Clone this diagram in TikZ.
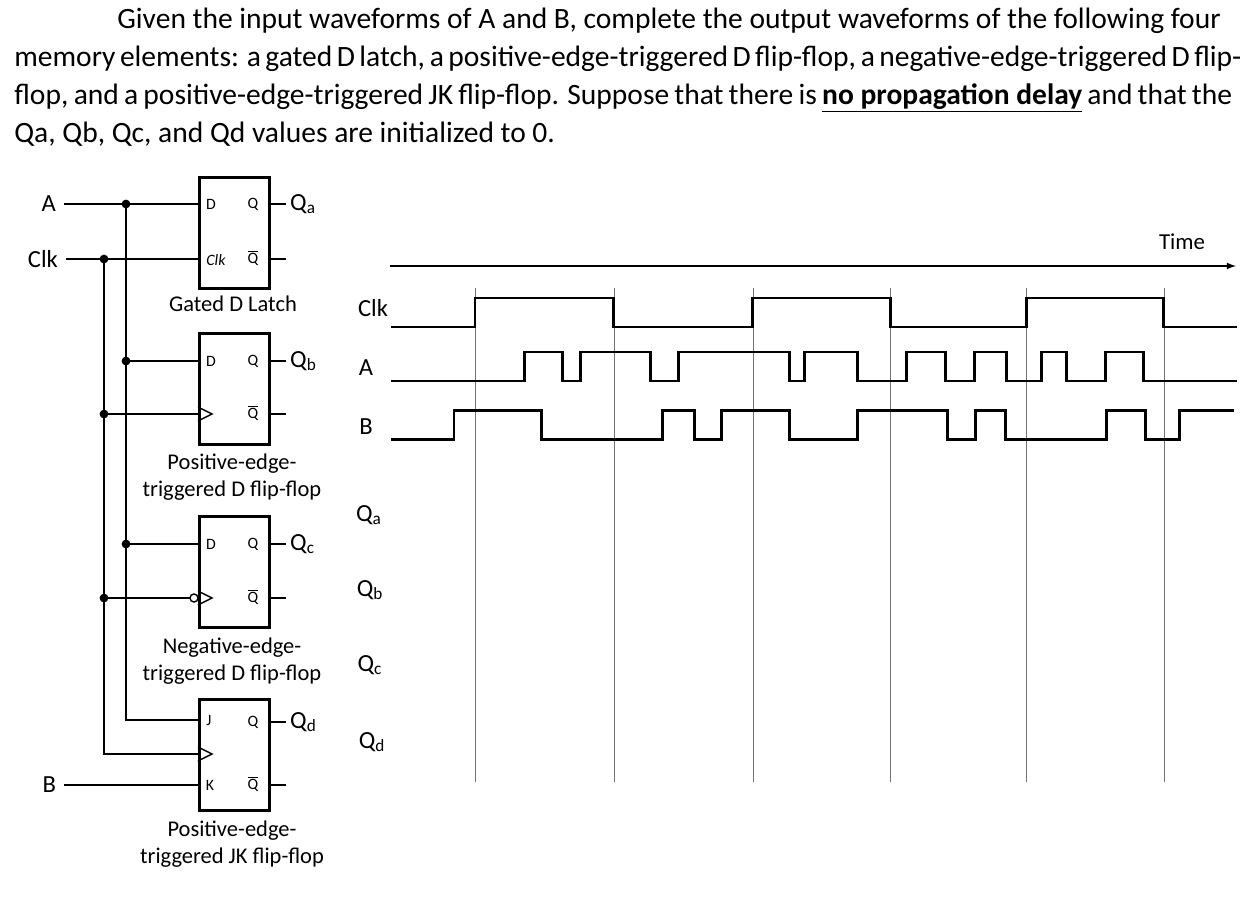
\documentclass[tikz,border=0pt]{standalone}
\usepackage{fontspec}
\setmainfont{Carlito}
\tikzset{
  ffbox/.style={draw,line width=1.6pt,minimum width=1.4cm,minimum height=2.22cm,inner sep=0pt},
  pin/.style={font=\fontsize{9}{10}\selectfont,inner sep=1pt},
  wire/.style={line width=0.8pt},
  wave/.style={line width=1.7pt},
  grid/.style={line width=0.4pt,black!55},
  caption/.style={align=center,font=\fontsize{12.8}{15.5}\selectfont},
  lbl/.style={font=\fontsize{14}{16}\selectfont,inner sep=1pt},
  taskline/.style={anchor=base west,inner sep=0pt,font=\fontsize{16.8}{20}\selectfont},
  dot/.style={circle,fill,inner sep=0pt,minimum size=5pt}
}
\newcommand{\qbar}{$\overline{\mbox{Q}}$}
\begin{document}
\begin{tikzpicture}[x=0.02cm,y=-0.02cm]
\useasboundingbox (0,0) rectangle (1244,896);

% question
\node[taskline] (task1) at (117,28) {Given the input waveforms of A and B, complete the output waveforms of the following four};
\node[taskline] (task2) at (14,66) {\makebox[24.36cm][s]{memory elements: a gated D latch, a positive-edge-triggered D flip-flop, a negative-edge-triggered D flip-}};
\node[taskline] (task3) at (14,104) {\makebox[24.36cm][s]{flop, and a positive-edge-triggered JK flip-flop. Suppose that there is \textbf{\underline{no propagation delay}} and that the}};
\node[taskline] (task4) at (14,142) {Qa, Qb, Qc, and Qd values are initialized to 0.};

% memory elements
\node[ffbox,anchor=north west] (latch) at (198,176) {};
\node[ffbox,anchor=north west] (ffb) at (198,332) {};
\node[ffbox,anchor=north west] (ffc) at (198,515) {};
\node[ffbox,anchor=north west] (ffd) at (198,698) {};

\node[pin] at (211,204) {D};
\node[pin] at (253,204) {Q};
\node[pin] at (216,260) {\itshape Clk};
\node[pin] at (253,258) {\qbar};
\node[pin] at (211,361) {D};
\node[pin] at (253,361) {Q};
\node[pin] at (253,413) {\qbar};
\node[pin] at (211,544) {D};
\node[pin] at (253,544) {Q};
\node[pin] at (253,597) {\qbar};
\node[pin] at (209,720) {J};
\node[pin] at (253,722) {Q};
\node[pin] at (210,785) {K};
\node[pin] at (253,784) {\qbar};

% clock triangles
\draw[wire] (198,407) -- (212,414) -- (198,421);
\draw[wire] (198,591) -- (212,598) -- (198,605);
\draw[wire] (198,747) -- (212,754) -- (198,761);
\draw[wire,fill=white] (194,598) circle (4);

\node[caption] (capa) at (233,304) {Gated D Latch};
\node[caption] (capb) at (232,477) {Positive-edge-\\triggered D flip-flop};
\node[caption] (capc) at (232,661) {Negative-edge-\\triggered D flip-flop};
\node[caption] (capd) at (232,844) {Positive-edge-\\triggered JK flip-flop};

% inputs
\node[lbl,anchor=east] (inA) at (58,204) {A};
\node[lbl,anchor=east] (inClk) at (60,259) {Clk};
\node[lbl,anchor=east] (inB) at (58,785) {B};
\draw[wire] (inA.east) ++(6,0) -- (198,204);
\draw[wire] (inClk.east) ++(6,0) -- (198,259);
\draw[wire] (inB.east) ++(6,0) -- (198,785);
\draw[wire] (126,204) -- (126,720) -- (198,720);
\draw[wire] (104,259) -- (104,754) -- (198,754);
\draw[wire] (126,361) -- (198,361);
\draw[wire] (126,544) -- (198,544);
\draw[wire] (104,414) -- (198,414);
\draw[wire] (104,598) -- (190,598);
\foreach \y in {204,361,544} \node[dot] at (126,\y) {};
\foreach \y in {259,414,598} \node[dot] at (104,\y) {};

% outputs
\foreach \y/\s in {204/a,361/b,544/c,722/d}
  \draw[wire] (268,\y) -- (286,\y) node[lbl,anchor=west,inner sep=2pt] {Q\textsubscript{\s}};
\foreach \y in {259,414,598,785}
  \draw[wire] (268,\y) -- (286,\y);

% timing diagram
\node[lbl,font=\fontsize{13}{15}\selectfont] (time) at (1182,242) {Time};
\draw[wire,-latex] (390,266) -- (1236,266);
\node[lbl] (wClk) at (373,308) {Clk};
\node[lbl] (wA) at (366,368) {A};
\node[lbl] (wB) at (366,427) {B};
\node[lbl] (wQa) at (369,515) {Q\textsubscript{a}};
\node[lbl] (wQb) at (370,590) {Q\textsubscript{b}};
\node[lbl] (wQc) at (370,665) {Q\textsubscript{c}};
\node[lbl] (wQd) at (372,742) {Q\textsubscript{d}};

\foreach \x in {475,614,753,890,1026,1164}
  \draw[grid] (\x,288) -- (\x,782);

\draw[wave] (391,327) -| (475,298) -| (613,327) -| (752,298) -| (890,327)
  -| (1026,298) -| (1163,327) -- (1237,327);
\draw[wave] (391,381) -| (524,352) -| (562,381) -| (580,352) -| (650,381)
  -| (678,352) -| (789,381) -| (804,352) -| (857,381) -| (906,352)
  -| (945,381) -| (974,352) -| (1006,381) -| (1041,352) -| (1066,381)
  -| (1105,352) -| (1143,381) -- (1237,381);
\draw[wave] (391,439) -| (454,410) -| (541,439) -| (662,410) -| (694,439)
  -| (721,410) -| (789,439) -| (857,410) -| (947,439) -| (975,410)
  -| (1005,439) -| (1106,410) -| (1145,439) -| (1179,410) -- (1234,410);
\end{tikzpicture}
\end{document}
